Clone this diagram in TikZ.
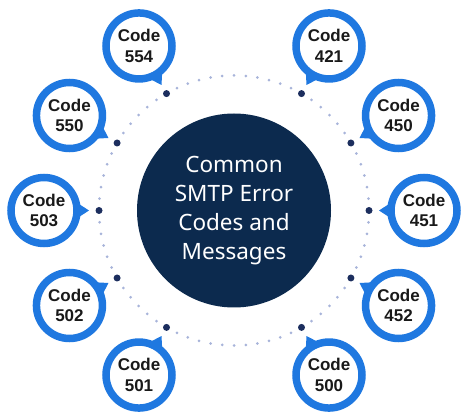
\documentclass[tikz,border=0pt]{standalone}
\usepackage{fontspec}
\setmainfont{Liberation Sans}
\newfontfamily\ctrfont{Noto Sans}
\usetikzlibrary{calc}
\definecolor{navy}{HTML}{0C2A4E}
\definecolor{ringblue}{HTML}{1F78E0}
\definecolor{darkdot}{HTML}{1C2E5E}
\definecolor{lightdot}{HTML}{A8B4DA}
\tikzset{
  balloon/.style={circle, draw=ringblue, line width=7.5pt, fill=white, minimum size=66pt, inner sep=0pt,
    align=center, text=black!90, font=\bfseries\fontsize{17}{20.5}\selectfont},
  hub/.style={circle, fill=navy, minimum size=194pt, inner sep=0pt, align=center, text=white,
    font=\ctrfont\fontsize{22.5}{29}\selectfont},
  tail/.style={fill=ringblue},
  smalldot/.style={fill=lightdot},
  bigdot/.style={fill=darkdot}
}
\begin{document}
\begin{tikzpicture}[x=1pt,y=1pt]
\useasboundingbox (0,0) rectangle (474,418);
\coordinate (O) at (234,207.5);
\foreach \a in {0,5,...,355} {
  \fill[smalldot] ($(O)+(\a:135)$) circle (1.5);
}
\node[hub] (ctr) at (O) {Common\\SMTP Error\\Codes and\\Messages};
\foreach \a/\c in {60/421,30/450,0/451,-30/452,-60/500,120/554,150/550,180/503,210/502,240/501} {
  \coordinate (p\c) at ($(O)+(\a:190)$);
  \coordinate (d\c) at ($(O)+(\a:135)$);
  \fill[tail] ($(p\c)+(\a+165:33)$) -- ($(p\c)+(\a+180:45)$) -- ($(p\c)+(\a+195:33)$) -- cycle;
  \node[balloon] (b\c) at (p\c) {Code\\\c};
  \fill[bigdot] (d\c) circle (3.5);
}
\end{tikzpicture}
\end{document}
